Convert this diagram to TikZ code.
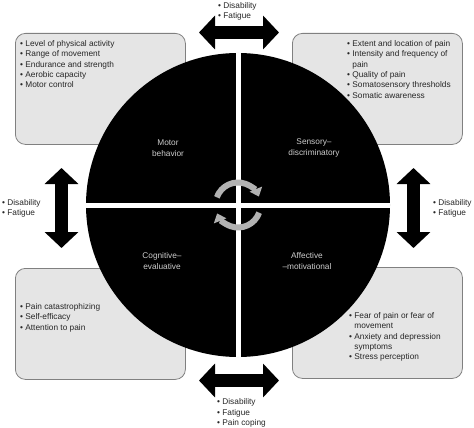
\documentclass[tikz,border=0pt]{standalone}
\usepackage{fontspec}
\setmainfont{Liberation Sans}
\usetikzlibrary{arrows.meta}

\begin{document}
\begin{tikzpicture}[x=1pt,y=-1pt,
  panel/.style={draw=gray,fill=gray!20,rounded corners=10pt,line width=0.8pt,minimum width=170pt,minimum height=111pt,anchor=north west},
  listtxt/.style={font=\fontsize{8.3}{10.4}\selectfont,align=left,inner sep=0pt,anchor=north west,text=black!85},
  quadtxt/.style={font=\fontsize{8.3}{10.6}\selectfont,align=center,text=gray!40},
  bigarrow/.style={line width=13pt,{Triangle[width=33pt,length=16pt]}-{Triangle[width=33pt,length=16pt]}},
  cycarrow/.style={draw=gray!60,line width=6pt,-{Triangle[width=13pt,length=8pt]}}]
\useasboundingbox (0,0) rectangle (474,428);

% panels behind the circle
\node[panel] (motorbox) at (15,33) {};
\node[panel] (sensorybox) at (292,33) {};
\node[panel] (cognitivebox) at (15,268) {};
\node[panel] (affectivebox) at (292,267) {};

\node[listtxt] (motorlist) at (20,40) {• Level of physical activity\\• Range of movement\\• Endurance and strength\\• Aerobic capacity\\• Motor control};
\node[listtxt] (sensorylist) at (347,40) {• Extent and location of pain\\• Intensity and frequency of\\\phantom{• }pain\\• Quality of pain\\• Somatosensory thresholds\\• Somatic awareness};
\node[listtxt] (cognitivelist) at (20,303) {• Pain catastrophizing\\• Self-efficacy\\• Attention to pain};
\node[listtxt] (affectivelist) at (349,312) {• Fear of pain or fear of\\\phantom{• }movement\\• Anxiety and depression\\\phantom{• }symptoms\\• Stress perception};

% the circle and its quadrants
\node[circle,fill=black,minimum size=304pt,inner sep=0pt] (core) at (238,205) {};
\draw[white,line width=5pt] (core.west) -- (core.east);
\draw[white,line width=5pt] (core.north) -- (core.south);

\node[quadtxt] (motor) at (168,148) {Motor\\behavior};
\node[quadtxt] (sensory) at (314,148) {Sensory–\\discriminatory};
\node[quadtxt] (cognitive) at (162,261) {Cognitive–\\evaluative};
\node[quadtxt] (affective) at (307,261) {Affective\\–motivational};

\draw[cycarrow] (core.center) ++(-160:22.5) arc[start angle=-160,end angle=-22,radius=22.5];
\draw[cycarrow] (core.center) ++(20:22.5) arc[start angle=20,end angle=158,radius=22.5];

% double arrows
\coordinate (topL) at (199,32.5);
\coordinate (topR) at (279,32.5);
\coordinate (botL) at (199,380.5);
\coordinate (botR) at (279,380.5);
\coordinate (leftT) at (61.5,168);
\coordinate (leftB) at (61.5,248);
\coordinate (rightT) at (413.5,168);
\coordinate (rightB) at (413.5,248);
\draw[bigarrow] (topL) -- (topR);
\draw[bigarrow] (botL) -- (botR);
\draw[bigarrow] (leftT) -- (leftB);
\draw[bigarrow] (rightT) -- (rightB);

\node[listtxt] (toplab) at (218,2) {• Disability\\• Fatigue};
\node[listtxt] (leftlab) at (2,199) {• Disability\\• Fatigue};
\node[listtxt] (rightlab) at (433,199) {• Disability\\• Fatigue};
\node[listtxt] (botlab) at (217,398.5) {• Disability\\• Fatigue\\• Pain coping};
\end{tikzpicture}
\end{document}
